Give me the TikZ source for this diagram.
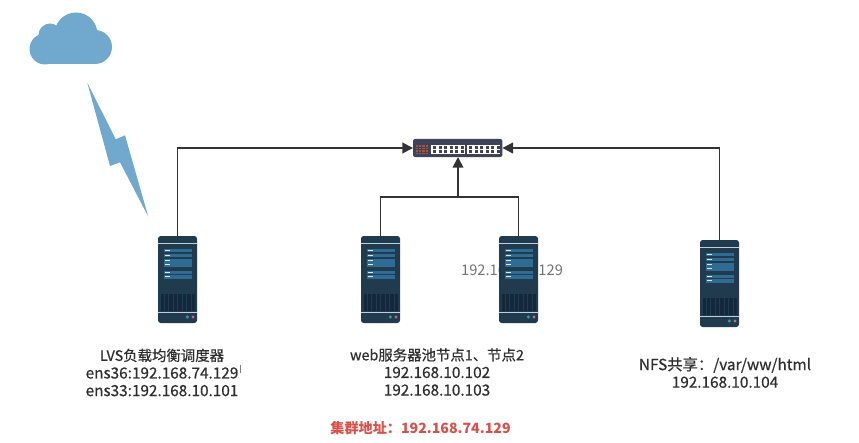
\documentclass[tikz,border=0pt]{standalone}
\usepackage{fontspec}
\setmainfont{Noto Sans CJK SC}
\newfontfamily\lblfont[FakeBold=0.6]{Noto Sans CJK SC}
\usetikzlibrary{arrows.meta}
\definecolor{srv}{HTML}{1F3B4D}
\definecolor{srvdark}{HTML}{13283A}
\definecolor{srvbar}{HTML}{2F6C94}
\definecolor{srvline}{HTML}{BFD0DA}
\definecolor{skyb}{HTML}{70A9CD}
\definecolor{linec}{HTML}{333333}
\definecolor{txtc}{HTML}{2E2E2E}
\definecolor{redc}{HTML}{D8504A}
\definecolor{swbody}{HTML}{3F4258}
\definecolor{swred}{HTML}{A5553F}
\newcommand{\headsize}{\fontsize{10.8pt}{12.9pt}\selectfont}
\tikzset{
  x=0.75pt,y=-0.75pt,
  serverbody/.style={draw=none,fill=srv,rounded corners=2pt,minimum width=29.25pt,minimum height=65.25pt,inner sep=0pt,outer sep=0pt,anchor=north west},
  conn/.style={draw=linec,line width=1.3pt,-{Triangle[length=8pt,width=8pt]}},
  plainconn/.style={draw=linec,line width=1.3pt},
  lbl/.style={font=\lblfont\fontsize{11.5pt}{12.9pt}\selectfont,text=txtc,align=center,inner sep=0pt},
  redlbl/.style={font=\bfseries\fontsize{10.6pt}{13pt}\selectfont,text=redc,inner sep=0pt},
  greylbl/.style={font=\fontsize{11pt}{13pt}\selectfont,text=black!55,inner sep=0pt},
  server/.pic={
    \node[serverbody] (-body) at (0,0) {};
    \fill[srvline] (0,7) rectangle (39,8.2);
    \fill[srvline] (0,76) rectangle (39,77.2);
    \foreach \ya in {12.5,17.5,23,27,34.5,39}{
      \fill[srvbar] (6,\ya) rectangle (34,{\ya+3.6});
      \fill[white!85!srvbar] (6.5,{\ya+1.2}) rectangle (12,{\ya+2.4});
    }
    \fill[srvdark] (2.5,57.5) rectangle (37,75);
    \foreach \gx in {6,10.5,...,35}{\draw[srv,line width=0.4pt] (\gx,57.5) -- (\gx,75);}
    \fill[teal!70!srvline] (29.3,81) circle (1.7);
    \fill[purple!50!srvline] (35,81) circle (1.7);
  },
}
\begin{document}
\begin{tikzpicture}
\useasboundingbox (0,0) rectangle (859,442);
% cloud
\fill[skyb] (45,49) circle (15.5);
\fill[skyb] (50,35) circle (11.5);
\fill[skyb] (76,34) circle (21.5);
\fill[skyb] (95,47) circle (17);
\fill[skyb] (45,40) rectangle (95,64);
% bolt
\fill[skyb] (87.3,82.7) -- (115.7,139.3) -- (125,135.3) -- (148.3,216.7) -- (120,162.3) -- (110,166) -- cycle;
% text behind server
\node[greylbl] (clusterip) at (512,270) {192.168.74.129};
% servers
\pic (lvs) at (158,236) {server};
\pic (weba) at (361,236) {server};
\pic (webb) at (499,236) {server};
\pic (nfs) at (700,240) {server};
% switch
\node[draw=none,fill=swbody,rounded corners=1.5pt,minimum width=67pt,minimum height=13.5pt,inner sep=0pt,outer sep=0pt] (switch) at (457.7,148) {};
\fill[swred] (415.5,145) rectangle (428,154);
\foreach \gx in {418.5,421.6,424.7}{\draw[swbody,line width=0.3pt] (\gx,145) -- (\gx,154);}
\foreach \gy in {147.2,149.5,151.8}{\draw[swbody,line width=0.3pt] (415.5,\gy) -- (428,\gy);}
\fill[white] (430.7,145) rectangle (465,154);
\fill[white] (466.7,145) rectangle (500,154);
\foreach \gx in {433,438.5,...,463}{
  \fill[swbody] (\gx,146.5) rectangle ++(3,2.2);
  \fill[swbody] (\gx,150.5) rectangle ++(3,2.2);
}
\foreach \gx in {469,474.5,...,498}{
  \fill[swbody] (\gx,146.5) rectangle ++(3,2.2);
  \fill[swbody] (\gx,150.5) rectangle ++(3,2.2);
}
% connectors
\coordinate (webjoin) at (458,197);
\draw[conn] (lvs-body.north) |- (switch.west);
\draw[conn] (nfs-body.north) |- (switch.east);
\draw[plainconn] (webjoin) -| (webb-body.north);
\draw[plainconn] (webjoin) -| (weba-body.north);
\draw[conn] (webjoin) -- (switch.south -| webjoin);
% labels
\node[lbl] (lvslbl) at (162,372.5) {{\headsize LVS负载均衡调度器}\\[0.3pt]ens36:192.168.74.129\\[0.3pt]ens33:192.168.10.101};
\node[lbl] (weblbl) at (437,372) {{\headsize web服务器池节点1、节点2}\\[0.3pt]192.168.10.102\\[0.3pt]192.168.10.103};
\node[lbl] (nfslbl) at (725,372.5) {NFS共享：/var/ww/html\\[0.3pt]192.168.10.104};
\node[redlbl] (clusterlbl) at (420.5,428) {集群地址：192.168.74.129};
% cursor
\draw[black!50,line width=0.5pt] (240,365) -- (240,373);
\end{tikzpicture}
\end{document}
